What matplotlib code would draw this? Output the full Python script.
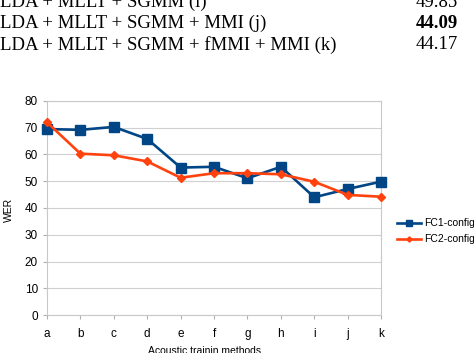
import matplotlib.pyplot as plt

methods = ["a", "b", "c", "d", "e", "f", "g", "h", "i", "j", "k"]
fc1 = [69.5, 69.2, 70.3, 65.8, 55.1, 55.4, 51.1, 55.4, 44.0, 47.1, 49.85]
fc2 = [72.0, 60.3, 59.7, 57.4, 51.3, 53.0, 53.0, 52.6, 49.8, 44.9, 44.2]
yticks = [0, 10, 20, 30, 40, 50, 60, 70, 80]

table_rows = ["LDA + MLLT + SGMM (i)",
              "LDA + MLLT + SGMM + MMI (j)",
              "LDA + MLLT + SGMM + fMMI + MMI (k)"]
table_wer = ["49.85", "44.09", "44.17"]

fig = plt.figure(figsize=(4.74, 3.53), dpi=100)

# table fragment at the top (first row is cut by the crop)
for i, (row, wer) in enumerate(zip(table_rows, table_wer)):
    y = 0.994 - i * 0.0605
    fig.text(0.0, y, row, family="Liberation Serif", fontsize=13.5, va="center", ha="left")
    fig.text(0.967, y, wer, family="Liberation Serif", fontsize=13.5, va="center", ha="right",
             fontweight="bold" if wer == "44.09" else "normal")

ax = fig.add_axes([0.0992, 0.1076, 0.7048, 0.6064])
x = range(len(methods))
ax.plot(x, fc1, color="#004586", lw=1.9, marker="s", ms=6.5, label="FC1-configuration", clip_on=False, zorder=3)
ax.plot(x, fc2, color="#ff420e", lw=1.9, marker="D", ms=3.8, label="FC2-configuration", clip_on=False, zorder=4)

ax.set_xlim(0, len(methods) - 1)
ax.set_ylim(0, 80)
ax.set_xticks(list(x))
ax.set_xticklabels(methods)
ax.set_yticks(yticks)
ax.grid(axis="y", color="#d0d0d0", lw=0.8)
ax.set_axisbelow(True)
for s in ax.spines.values():
    s.set_color("#c8c8c8")
    s.set_linewidth(0.8)
ax.tick_params(colors="#b0b0b0", length=3, width=0.8, labelcolor="black", labelsize=8.5)
for lab in ax.get_xticklabels() + ax.get_yticklabels():
    lab.set_family("Liberation Sans")
ax.tick_params(axis="x", pad=6)

ax.set_ylabel("WER", family="Liberation Sans", fontsize=7.5, va="center")
ax.yaxis.set_label_coords(-0.115, 0.49)
ax.set_xlabel("Acoustic trainin methods", family="Liberation Sans", fontsize=7.5, va="top")
ax.xaxis.set_label_coords(0.473, -0.145)

ax.legend(loc="upper left", bbox_to_anchor=(1.02, 0.495), frameon=False,
          prop={"family": "Liberation Sans", "size": 7.5}, handlelength=2.3,
          handletextpad=0.25, labelspacing=0.55, markerscale=0.7)

fig.savefig("out.png", dpi=100)
